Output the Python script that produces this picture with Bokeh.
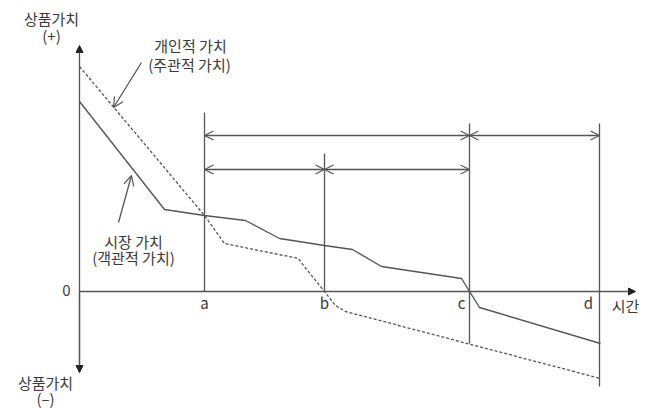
from bokeh.plotting import figure
from bokeh.models import Range1d, Arrow, OpenHead, NormalHead, ColumnDataSource
from bokeh.core.properties import value
from bokeh.embed import file_html
from bokeh.resources import INLINE

# ---- data (diagram units: time on x, commodity value on y) ----
market_t = [0, 8.5, 12.5, 16.6, 20.0, 24.5, 27.3, 30.2, 38.2, 40.0, 52.1]
market_v = [19.0, 8.2, 7.6, 7.1, 5.3, 4.6, 4.2, 2.5, 1.3, -1.6, -5.2]

personal_t = [0, 12.5, 14.5, 21.9, 22.4, 24.5, 25.6, 26.6, 52.1]
personal_v = [22.5, 7.6, 4.8, 3.3, 2.6, 0.0, -1.4, -2.0, -8.7]

tick_labels = ["a", "b", "c", "d"]
tick_t = [12.5, 24.5, 39.0, 52.0]
vline_top = [17.9, 13.8, 16.8, 16.8]
vline_bottom = [0.0, 0.0, -5.2, -9.5]

# spans (intervals) shown with double-headed arrows: (start, end, level)
span_start = [12.5, 39.0, 12.5, 24.5]
span_end = [39.0, 52.0, 24.5, 39.0]
span_level = [15.6, 15.6, 12.2, 12.2]

FONT = "Noto Sans CJK KR"
TXT = "#3a3a3a"
LINE = "#555555"

p = figure(width=654, height=412, output_backend="svg", toolbar_location=None,
           x_range=Range1d(-7.9, 57.5), y_range=Range1d(-12.1, 29.1),
           min_border=0, min_border_left=0, min_border_right=0,
           min_border_top=0, min_border_bottom=0)
p.xaxis.visible = False
p.yaxis.visible = False
p.xgrid.visible = False
p.ygrid.visible = False
p.outline_line_color = None
p.background_fill_color = "white"
p.border_fill_color = "white"

# axes with arrows
head = dict(size=7, fill_color="#222222", line_color="#222222")
p.add_layout(Arrow(end=NormalHead(**head), x_start=0, y_start=-8.1, x_end=0, y_end=24.6,
                   line_color=LINE, line_width=1.3))
p.add_layout(Arrow(end=NormalHead(**head), x_start=0, y_start=0, x_end=0, y_end=-8.1,
                   line_color=LINE, line_width=1.3))
p.add_layout(Arrow(end=NormalHead(**head), x_start=0, y_start=0, x_end=55.6, y_end=0,
                   line_color=LINE, line_width=1.3))

# vertical time markers
p.segment(x0=tick_t, y0=vline_bottom, x1=tick_t, y1=vline_top,
          line_color=LINE, line_width=1.3)

# interval arrows
for s, e, lv in zip(span_start, span_end, span_level):
    p.add_layout(Arrow(start=OpenHead(size=9, line_color=LINE, line_width=1.2),
                       end=OpenHead(size=9, line_color=LINE, line_width=1.2),
                       x_start=s, y_start=lv, x_end=e, y_end=lv,
                       line_color=LINE, line_width=1.3))

# value curves
p.line(market_t, market_v, line_color=LINE, line_width=1.4)
p.line(personal_t, personal_v, line_color=LINE, line_width=1.3, line_dash="3 2")

# pointer arrows to curves
p.add_layout(Arrow(end=OpenHead(size=10, line_color=LINE, line_width=1.2),
                   x_start=6.2, y_start=22.9, x_end=3.4, y_end=18.4,
                   line_color=LINE, line_width=1.3))
p.add_layout(Arrow(end=OpenHead(size=10, line_color=LINE, line_width=1.2),
                   x_start=3.9, y_start=6.9, x_end=5.2, y_end=11.6,
                   line_color=LINE, line_width=1.3))

# texts
label_text = ["상품가치", "(+)", "상품가치", "(–)", "개인적 가치", "(주관적 가치)",
              "시장 가치", "(객관적 가치)", "0", "시간"]
label_x = [-2.8, -2.8, -3.4, -3.4, 11.1, 11.0, 5.4, 5.4, -1.3, 54.6]
label_y = [27.3, 25.6, -9.1, -10.7, 24.6, 22.7, 5.0, 3.4, 0.1, -1.4]
src = ColumnDataSource(dict(x=label_x, y=label_y, text=label_text))
p.text(x="x", y="y", text="text", source=src, text_align="center",
       text_baseline="middle", text_font=value(FONT), text_font_size="15px",
       text_color=TXT)

tick_x = [12.5, 24.5, 38.2, 50.9]
tick_y = [-1.1, -1.1, -1.1, -1.1]
p.text(x=tick_x, y=tick_y, text=tick_labels, text_align="center",
       text_baseline="middle", text_font=value(FONT), text_font_size="15px",
       text_color=TXT)

open("out.html", "w").write(file_html(p, INLINE))
